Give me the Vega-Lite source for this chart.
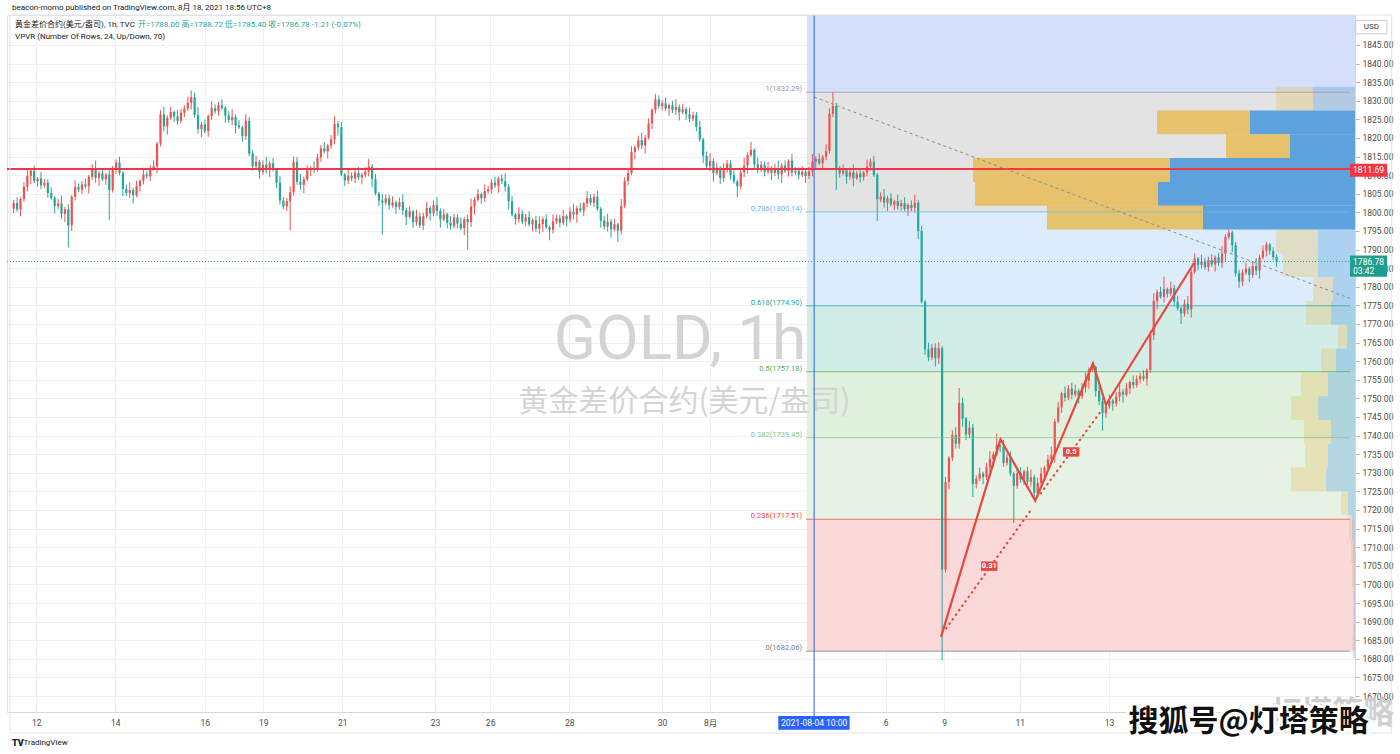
{
"$schema": "https://vega.github.io/schema/vega-lite/v6.json",
"width": 1348, "height": 697,
"autosize": {"type": "none"},
"padding": {"left": 7, "top": 15, "right": 45, "bottom": 42},
"background": "white",
"config": {"view": {"stroke": "#e0e3eb"}, "font": "Roboto, Noto Sans CJK SC, sans-serif",
  "axisY": {"tickCount": 40, "labelOverlap": false, "labelFlush": false, "gridColor": "#eef0f4", "tickSize": 4, "tickColor": "#b2b5be", "domainColor": "#d6d8de", "labelFontSize": 8.5, "labelColor": "#4a4a4a", "labelPadding": 3}},
"resolve": {"scale": {"x": "independent", "color": "independent"}},
"layer": [
{
 "data": {"values": [
  {"from": 1832.29, "to": 1925.13, "band": "top"},
  {"from": 1800.14, "to": 1832.29, "band": "g"},
  {"from": 1774.90, "to": 1800.14, "band": "lb"},
  {"from": 1757.18, "to": 1774.90, "band": "tl"},
  {"from": 1739.45, "to": 1757.18, "band": "gr"},
  {"from": 1717.51, "to": 1739.45, "band": "lg"},
  {"from": 1682.06, "to": 1717.51, "band": "rd"}
 ]},
 "mark": {"type": "rect", "clip": true},
 "encoding": {
  "x": {"datum": 232.1, "type": "quantitative", "scale": {"domain": [-0.5, 391.5], "nice": false, "zero": false},
        "axis": {"values": [8,31,57,74,97,124,140,163,190,204,255,272,294,320],
                 "labelExpr": "['12','14','16','19','21','23','26','28','30','8月','6','9','11','13'][indexof([8,31,57,74,97,124,140,163,190,204,255,272,294,320], datum.value)]",
                 "title": null, "grid": true, "gridColor": "#eef0f4", "ticks": false, "domainColor": "#d6d8de",
                 "labelFontSize": 8.5, "labelColor": "#4a4a4a", "labelPadding": 6, "labelOverlap": false, "labelFlush": false}},
  "x2": {"datum": 391.5},
  "y": {"field": "from", "type": "quantitative", "scale": {"domain": [1665.7, 1853.06], "nice": false, "zero": false}},
  "y2": {"field": "to"},
  "color": {"field": "band", "type": "nominal", "scale": {"domain": ["top","g","lb","tl","gr","lg","rd"], "range": ["#d5dffa","#e3e3e4","#dcecfa","#d2ece8","#dff0dc","#e6f2e3","#fbd9d9"]}, "legend": null}
 }
},
{
 "data": {"values": [
  {"lo": 1827.4, "hi": 1833.8, "up": 42, "down": 37, "va": false},
  {"lo": 1821.0, "hi": 1827.4, "up": 105, "down": 93, "va": true},
  {"lo": 1814.6, "hi": 1821.0, "up": 65, "down": 64, "va": true},
  {"lo": 1808.2, "hi": 1814.6, "up": 185, "down": 197, "va": true},
  {"lo": 1801.8, "hi": 1808.2, "up": 197, "down": 183, "va": true},
  {"lo": 1795.4, "hi": 1801.8, "up": 152, "down": 156, "va": true},
  {"lo": 1789.0, "hi": 1795.4, "up": 37, "down": 42, "va": false},
  {"lo": 1782.6, "hi": 1789.0, "up": 37, "down": 35, "va": false},
  {"lo": 1776.2, "hi": 1782.6, "up": 22, "down": 20, "va": false},
  {"lo": 1769.8, "hi": 1776.2, "up": 24, "down": 25, "va": false},
  {"lo": 1763.4, "hi": 1769.8, "up": 8, "down": 9, "va": false},
  {"lo": 1757.0, "hi": 1763.4, "up": 19, "down": 15, "va": false},
  {"lo": 1750.6, "hi": 1757.0, "up": 27, "down": 27, "va": false},
  {"lo": 1744.2, "hi": 1750.6, "up": 37, "down": 27, "va": false},
  {"lo": 1737.8, "hi": 1744.2, "up": 24, "down": 27, "va": false},
  {"lo": 1731.4, "hi": 1737.8, "up": 27, "down": 23, "va": false},
  {"lo": 1725.0, "hi": 1731.4, "up": 29, "down": 35, "va": false},
  {"lo": 1718.6, "hi": 1725.0, "up": 7, "down": 7, "va": false},
  {"lo": 1712.2, "hi": 1718.6, "up": 3, "down": 3, "va": false},
  {"lo": 1705.8, "hi": 1712.2, "up": 2, "down": 2, "va": false},
  {"lo": 1699.4, "hi": 1705.8, "up": 1.5, "down": 1.5, "va": false},
  {"lo": 1693.0, "hi": 1699.4, "up": 1, "down": 1, "va": false},
  {"lo": 1686.6, "hi": 1693.0, "up": 1, "down": 1, "va": false},
  {"lo": 1680.2, "hi": 1686.6, "up": 1.5, "down": 1, "va": false}
 ]},
 "transform": [
  {"fold": ["up", "down"], "as": ["side", "vol"]},
  {"stack": "vol", "groupby": ["lo"], "sort": [{"field": "side", "order": "descending"}], "as": ["v0", "v1"]}
 ],
 "mark": {"type": "rect"},
 "encoding": {
  "x": {"field": "v0", "type": "quantitative", "scale": {"domain": [0, 1348], "reverse": true, "nice": false, "zero": false}, "axis": null},
  "x2": {"field": "v1"},
  "y": {"field": "lo", "type": "quantitative"},
  "y2": {"field": "hi"},
  "color": {"field": "side", "type": "nominal", "scale": {"domain": ["up", "down"], "range": ["#4a98dc", "#e5bd5a"]}, "legend": null},
  "opacity": {"condition": {"test": "datum.va", "value": 0.88}, "value": 0.32}
 }
},
{
 "layer": [
  {"data": {"values": [{}]}, "mark": {"type": "text", "text": "GOLD, 1h", "fontSize": 62, "color": "#d4d4d4", "align": "center", "baseline": "middle", "font": "Roboto"},
   "encoding": {"x": {"datum": 195.2, "type": "quantitative", "axis": null}, "y": {"datum": 1765.7, "type": "quantitative"}}},
  {"data": {"values": [{}]}, "mark": {"type": "text", "text": "黄金差价合约(美元/盎司)", "fontSize": 30, "color": "#d4d4d4", "align": "center", "baseline": "middle", "font": "Noto Sans CJK SC"},
   "encoding": {"x": {"datum": 196.5, "type": "quantitative", "axis": null}, "y": {"datum": 1749.0, "type": "quantitative"}}},
  {
   "data": {"values": "i,o,h,l,c\n0,1801.0,1803.4,1799.8,1802.5\n1,1802.5,1804.1,1800.2,1800.8\n2,1800.8,1804.1,1798.9,1803.6\n3,1803.6,1808.1,1802.8,1806.9\n4,1806.9,1811.9,1805.6,1809.8\n5,1809.8,1811.9,1807.6,1811.2\n6,1811.2,1812.6,1807.9,1808.4\n7,1808.4,1809.5,1806.9,1809.1\n8,1809.1,1810.9,1806.3,1807.3\n9,1807.3,1809.0,1806.6,1808.0\n10,1808.0,1808.9,1804.0,1805.2\n11,1805.2,1806.8,1803.3,1803.9\n12,1803.9,1804.4,1799.8,1801.7\n13,1801.7,1803.6,1800.9,1802.4\n14,1802.4,1804.5,1798.3,1799.6\n15,1799.6,1801.5,1797.4,1800.8\n16,1800.8,1802.2,1790.6,1796.5\n17,1796.5,1804.6,1795.0,1804.2\n18,1804.2,1808.6,1803.2,1806.8\n19,1806.8,1807.8,1805.4,1806.1\n20,1806.1,1808.4,1804.9,1807.5\n21,1807.5,1809.1,1806.4,1807.0\n22,1807.0,1810.1,1805.1,1809.6\n23,1809.6,1813.0,1808.8,1811.8\n24,1811.8,1813.9,1808.0,1809.3\n25,1809.3,1811.2,1807.1,1810.5\n26,1810.5,1811.9,1808.4,1808.9\n27,1808.9,1810.6,1807.4,1810.2\n28,1810.2,1812.0,1798.0,1806.0\n29,1806.0,1812.5,1805.3,1811.5\n30,1811.5,1814.3,1810.3,1813.4\n31,1813.4,1815.0,1810.0,1810.6\n32,1810.6,1811.1,1804.4,1806.3\n33,1806.3,1807.5,1804.4,1805.2\n34,1805.2,1808.1,1803.9,1806.0\n35,1806.0,1806.7,1802.4,1804.6\n36,1804.6,1808.5,1804.1,1807.1\n37,1807.1,1808.9,1805.6,1808.5\n38,1808.5,1812.0,1807.5,1810.2\n39,1810.2,1811.2,1809.0,1809.7\n40,1809.7,1812.7,1808.5,1811.8\n41,1811.8,1814.0,1811.2,1812.4\n42,1812.4,1819.0,1810.5,1818.5\n43,1818.5,1827.5,1817.7,1826.3\n44,1826.3,1828.4,1821.8,1823.1\n45,1823.1,1826.1,1820.9,1825.4\n46,1825.4,1828.4,1824.9,1827.0\n47,1827.0,1827.4,1824.3,1825.8\n48,1825.8,1827.6,1823.6,1824.6\n49,1824.6,1827.8,1823.9,1826.8\n50,1826.8,1828.8,1825.6,1827.9\n51,1827.9,1831.1,1827.3,1829.5\n52,1829.5,1832.8,1827.6,1831.0\n53,1831.0,1832.2,1825.4,1826.2\n54,1826.2,1828.3,1821.1,1822.4\n55,1822.4,1824.3,1820.2,1823.6\n56,1823.6,1825.0,1821.3,1821.8\n57,1821.8,1826.3,1820.3,1825.9\n58,1825.9,1829.8,1824.9,1828.0\n59,1828.0,1829.0,1826.5,1827.2\n60,1827.2,1829.7,1826.0,1828.8\n61,1828.8,1830.4,1827.5,1828.1\n62,1828.1,1828.6,1824.1,1826.0\n63,1826.0,1827.2,1824.0,1824.8\n64,1824.8,1827.7,1823.5,1825.6\n65,1825.6,1826.3,1821.2,1823.4\n66,1823.4,1824.8,1822.4,1822.9\n67,1822.9,1823.3,1819.0,1820.5\n68,1820.5,1826.4,1819.5,1824.6\n69,1824.6,1825.6,1815.1,1815.8\n70,1815.8,1816.7,1811.2,1812.4\n71,1812.4,1815.2,1811.8,1813.6\n72,1813.6,1814.1,1809.0,1810.9\n73,1810.9,1814.0,1810.1,1812.8\n74,1812.8,1814.9,1810.4,1811.7\n75,1811.7,1813.9,1809.5,1813.2\n76,1813.2,1814.6,1811.0,1811.5\n77,1811.5,1811.9,1806.5,1808.0\n78,1808.0,1809.8,1802.2,1803.2\n79,1803.2,1804.2,1800.9,1801.6\n80,1801.6,1803.9,1800.4,1803.0\n81,1803.0,1807.0,1795.2,1805.4\n82,1805.4,1815.0,1804.5,1813.6\n83,1813.6,1814.8,1807.4,1808.2\n84,1808.2,1810.3,1806.1,1807.4\n85,1807.4,1809.6,1805.2,1808.9\n86,1808.9,1812.7,1808.4,1811.3\n87,1811.3,1812.4,1809.8,1812.0\n88,1812.0,1813.8,1810.6,1811.6\n89,1811.6,1815.8,1810.9,1814.8\n90,1814.8,1818.1,1813.6,1817.2\n91,1817.2,1818.8,1815.8,1816.4\n92,1816.4,1818.4,1814.5,1817.9\n93,1817.9,1820.8,1817.1,1819.6\n94,1819.6,1825.9,1818.3,1823.8\n95,1823.8,1824.5,1820.7,1822.9\n96,1822.9,1824.3,1809.7,1810.2\n97,1810.2,1810.6,1807.1,1808.6\n98,1808.6,1811.6,1807.6,1809.8\n99,1809.8,1810.8,1808.4,1809.1\n100,1809.1,1811.5,1807.9,1810.6\n101,1810.6,1812.2,1808.8,1809.4\n102,1809.4,1810.6,1807.5,1810.1\n103,1810.1,1812.2,1809.3,1811.0\n104,1811.0,1814.4,1809.7,1812.3\n105,1812.3,1813.0,1806.8,1809.0\n106,1809.0,1810.4,1804.6,1805.1\n107,1805.1,1805.5,1801.7,1803.2\n108,1803.2,1805.0,1794.0,1802.6\n109,1802.6,1804.8,1801.9,1803.8\n110,1803.8,1804.7,1800.7,1801.9\n111,1801.9,1804.3,1801.3,1802.7\n112,1802.7,1803.2,1799.6,1801.5\n113,1801.5,1804.0,1800.7,1802.8\n114,1802.8,1804.9,1799.3,1800.6\n115,1800.6,1801.3,1796.6,1798.8\n116,1798.8,1801.7,1798.3,1800.3\n117,1800.3,1800.7,1795.9,1797.4\n118,1797.4,1800.7,1796.4,1798.9\n119,1798.9,1799.9,1795.8,1796.5\n120,1796.5,1799.9,1795.3,1799.0\n121,1799.0,1802.8,1798.4,1801.2\n122,1801.2,1801.7,1797.8,1799.7\n123,1799.7,1803.2,1798.9,1802.0\n124,1802.0,1804.1,1799.1,1800.4\n125,1800.4,1801.1,1795.9,1798.1\n126,1798.1,1800.9,1797.6,1799.5\n127,1799.5,1799.9,1795.7,1797.2\n128,1797.2,1799.0,1795.4,1796.4\n129,1796.4,1799.6,1795.7,1798.6\n130,1798.6,1799.5,1795.8,1797.0\n131,1797.0,1798.6,1795.2,1795.8\n132,1795.8,1798.7,1793.9,1798.2\n133,1798.2,1799.4,1790.0,1797.4\n134,1797.4,1803.7,1796.1,1801.6\n135,1801.6,1804.1,1799.4,1803.4\n136,1803.4,1806.3,1802.9,1804.9\n137,1804.9,1805.3,1802.3,1803.8\n138,1803.8,1807.5,1802.8,1805.7\n139,1805.7,1807.2,1805.0,1806.2\n140,1806.2,1808.9,1805.0,1808.0\n141,1808.0,1809.6,1806.6,1807.2\n142,1807.2,1809.6,1805.3,1809.1\n143,1809.1,1810.3,1807.6,1808.4\n144,1808.4,1810.5,1805.6,1806.9\n145,1806.9,1807.6,1800.8,1803.0\n146,1803.0,1804.4,1798.9,1799.4\n147,1799.4,1799.8,1796.7,1798.2\n148,1798.2,1801.4,1797.2,1799.6\n149,1799.6,1800.6,1796.8,1797.5\n150,1797.5,1799.6,1796.3,1798.7\n151,1798.7,1800.3,1796.2,1796.8\n152,1796.8,1798.4,1794.9,1797.9\n153,1797.9,1799.1,1794.8,1795.6\n154,1795.6,1799.0,1794.3,1796.9\n155,1796.9,1798.9,1794.7,1798.2\n156,1798.2,1799.6,1795.5,1796.0\n157,1796.0,1796.4,1792.5,1795.3\n158,1795.3,1799.4,1794.3,1797.6\n159,1797.6,1799.4,1796.9,1798.4\n160,1798.4,1799.3,1796.0,1797.2\n161,1797.2,1800.6,1796.6,1799.0\n162,1799.0,1799.5,1796.2,1798.1\n163,1798.1,1801.4,1797.3,1800.2\n164,1800.2,1802.3,1798.1,1799.4\n165,1799.4,1801.8,1797.2,1801.1\n166,1801.1,1802.5,1800.0,1800.5\n167,1800.5,1802.8,1799.0,1802.4\n168,1802.4,1805.7,1801.4,1803.9\n169,1803.9,1804.9,1801.9,1802.6\n170,1802.6,1805.1,1801.4,1804.2\n171,1804.2,1805.8,1800.4,1801.0\n172,1801.0,1801.5,1795.9,1797.8\n173,1797.8,1799.0,1795.4,1796.2\n174,1796.2,1799.6,1794.9,1797.5\n175,1797.5,1798.2,1793.2,1795.4\n176,1795.4,1798.2,1794.9,1796.8\n177,1796.8,1797.2,1792.0,1795.1\n178,1795.1,1803.6,1794.1,1801.8\n179,1801.8,1809.5,1801.1,1808.5\n180,1808.5,1811.5,1807.3,1810.6\n181,1810.6,1817.8,1810.0,1816.2\n182,1816.2,1818.0,1814.3,1817.5\n183,1817.5,1820.6,1816.7,1819.4\n184,1819.4,1821.5,1817.0,1818.0\n185,1818.0,1820.8,1815.8,1820.1\n186,1820.1,1825.3,1819.6,1823.9\n187,1823.9,1828.0,1822.4,1827.6\n188,1827.6,1831.8,1826.6,1830.4\n189,1830.4,1831.4,1827.9,1828.6\n190,1828.6,1830.2,1827.4,1829.3\n191,1829.3,1830.9,1827.3,1827.9\n192,1827.9,1829.3,1826.0,1828.8\n193,1828.8,1830.0,1826.7,1827.5\n194,1827.5,1830.4,1826.2,1828.3\n195,1828.3,1829.0,1824.7,1826.9\n196,1826.9,1829.2,1826.4,1827.8\n197,1827.8,1828.2,1824.9,1826.4\n198,1826.4,1828.2,1824.2,1825.2\n199,1825.2,1827.1,1824.5,1826.1\n200,1826.1,1827.0,1821.8,1823.0\n201,1823.0,1824.6,1819.0,1819.6\n202,1819.6,1820.1,1813.3,1815.2\n203,1815.2,1816.4,1811.6,1812.4\n204,1812.4,1815.9,1811.1,1813.8\n205,1813.8,1814.5,1808.3,1810.5\n206,1810.5,1813.4,1810.0,1812.0\n207,1812.0,1812.4,1807.7,1809.2\n208,1809.2,1813.2,1808.2,1811.4\n209,1811.4,1814.1,1810.7,1813.1\n210,1813.1,1814.0,1808.8,1810.0\n211,1810.0,1811.6,1807.7,1808.3\n212,1808.3,1808.8,1804.0,1807.0\n213,1807.0,1812.0,1806.2,1810.8\n214,1810.8,1814.7,1809.5,1812.6\n215,1812.6,1816.1,1810.4,1815.4\n216,1815.4,1819.0,1814.9,1816.8\n217,1816.8,1817.2,1811.4,1812.9\n218,1812.9,1814.7,1810.6,1811.6\n219,1811.6,1813.8,1810.9,1812.8\n220,1812.8,1813.7,1809.7,1810.9\n221,1810.9,1813.6,1810.3,1812.0\n222,1812.0,1812.5,1808.7,1810.6\n223,1810.6,1813.0,1809.8,1811.8\n224,1811.8,1813.9,1808.9,1810.2\n225,1810.2,1813.3,1807.9,1812.6\n226,1812.6,1814.0,1810.6,1811.1\n227,1811.1,1814.3,1809.6,1813.9\n228,1813.9,1815.7,1809.7,1810.7\n229,1810.7,1812.2,1810.0,1811.2\n230,1811.2,1812.1,1808.9,1810.1\n231,1810.1,1812.5,1809.5,1810.9\n232,1810.9,1811.4,1807.9,1809.8\n233,1809.8,1812.2,1809.0,1811.0\n234,1811.0,1815.7,1809.7,1813.6\n235,1813.6,1815.1,1811.4,1814.4\n236,1814.4,1815.8,1812.7,1813.2\n237,1813.2,1815.4,1811.7,1815.0\n238,1815.0,1818.3,1814.0,1816.5\n239,1816.5,1828.0,1815.8,1826.5\n240,1826.5,1832.3,1825.6,1828.6\n241,1828.6,1829.4,1806.0,1811.6\n242,1811.6,1812.5,1809.3,1810.5\n243,1810.5,1812.9,1809.9,1811.3\n244,1811.3,1811.8,1807.7,1809.6\n245,1809.6,1812.0,1808.8,1810.8\n246,1810.8,1812.9,1807.0,1809.2\n247,1809.2,1811.1,1808.7,1810.4\n248,1810.4,1811.8,1808.0,1809.5\n249,1809.5,1811.1,1808.5,1810.7\n250,1810.7,1814.2,1809.7,1812.4\n251,1812.4,1814.5,1811.2,1813.6\n252,1813.6,1815.2,1809.5,1810.1\n253,1810.1,1810.6,1797.7,1803.5\n254,1803.5,1805.4,1802.7,1804.2\n255,1804.2,1806.3,1801.3,1802.6\n256,1802.6,1804.5,1800.4,1803.8\n257,1803.8,1805.2,1801.6,1802.1\n258,1802.1,1803.4,1800.6,1803.0\n259,1803.0,1804.8,1800.7,1801.7\n260,1801.7,1803.4,1800.5,1802.5\n261,1802.5,1804.1,1800.3,1800.9\n262,1800.9,1802.5,1799.0,1802.0\n263,1802.0,1803.2,1800.4,1801.2\n264,1801.2,1804.7,1799.9,1802.6\n265,1802.6,1803.3,1792.8,1795.0\n266,1795.0,1796.4,1775.5,1776.0\n267,1776.0,1776.4,1761.7,1763.2\n268,1763.2,1765.0,1760.0,1761.0\n269,1761.0,1764.6,1760.3,1763.6\n270,1763.6,1764.8,1758.6,1760.8\n271,1760.8,1765.1,1759.3,1763.5\n272,1763.5,1764.0,1679.7,1704.0\n273,1704.0,1728.9,1703.2,1727.5\n274,1727.5,1734.5,1725.6,1734.0\n275,1734.0,1741.4,1733.2,1740.2\n276,1740.2,1742.3,1736.5,1737.8\n277,1737.8,1752.8,1736.5,1748.8\n278,1748.8,1750.2,1742.4,1744.6\n279,1744.6,1745.0,1738.8,1740.3\n280,1740.3,1743.9,1739.3,1742.1\n281,1742.1,1743.1,1723.5,1727.0\n282,1727.0,1729.3,1725.8,1728.4\n283,1728.4,1731.4,1727.8,1729.8\n284,1729.8,1730.3,1726.9,1728.9\n285,1728.9,1732.7,1728.1,1731.5\n286,1731.5,1735.8,1730.2,1733.7\n287,1733.7,1735.7,1731.5,1735.0\n288,1735.0,1740.5,1734.5,1737.4\n289,1737.4,1737.8,1735.5,1737.0\n290,1737.0,1738.8,1731.6,1732.6\n291,1732.6,1735.1,1731.9,1734.1\n292,1734.1,1735.7,1729.2,1729.8\n293,1729.8,1730.3,1716.5,1726.5\n294,1726.5,1731.1,1725.7,1729.9\n295,1729.9,1731.5,1727.3,1728.2\n296,1728.2,1730.9,1726.7,1730.4\n297,1730.4,1731.6,1726.8,1727.6\n298,1727.6,1730.9,1726.3,1728.8\n299,1728.8,1729.5,1722.7,1724.6\n300,1724.6,1728.7,1723.4,1727.3\n301,1727.3,1731.4,1726.7,1729.8\n302,1729.8,1731.9,1727.9,1731.4\n303,1731.4,1734.8,1730.6,1733.6\n304,1733.6,1737.0,1732.3,1734.9\n305,1734.9,1744.5,1732.7,1743.8\n306,1743.8,1749.0,1743.3,1747.6\n307,1747.6,1751.8,1746.1,1751.4\n308,1751.4,1753.2,1749.2,1750.2\n309,1750.2,1753.6,1749.5,1752.6\n310,1752.6,1754.2,1749.8,1751.0\n311,1751.0,1753.7,1750.4,1752.1\n312,1752.1,1752.6,1748.7,1750.6\n313,1750.6,1754.1,1749.8,1752.9\n314,1752.9,1756.9,1751.6,1754.8\n315,1754.8,1758.3,1752.6,1757.6\n316,1757.6,1759.6,1757.1,1758.4\n317,1758.4,1758.8,1750.5,1752.0\n318,1752.0,1753.8,1748.2,1749.2\n319,1749.2,1750.2,1741.3,1746.0\n320,1746.0,1748.7,1744.8,1747.8\n321,1747.8,1751.0,1747.2,1749.4\n322,1749.4,1749.9,1746.7,1748.6\n323,1748.6,1751.7,1747.8,1750.5\n324,1750.5,1753.9,1749.2,1751.8\n325,1751.8,1752.5,1748.8,1751.0\n326,1751.0,1754.1,1750.5,1752.7\n327,1752.7,1754.8,1751.2,1754.4\n328,1754.4,1756.2,1752.6,1753.6\n329,1753.6,1756.2,1752.9,1755.2\n330,1755.2,1756.9,1754.0,1756.0\n331,1756.0,1757.6,1754.7,1755.3\n332,1755.3,1758.1,1753.4,1757.6\n333,1757.6,1768.2,1756.8,1767.0\n334,1767.0,1778.3,1765.7,1776.2\n335,1776.2,1779.3,1774.0,1778.6\n336,1778.6,1780.0,1776.8,1777.3\n337,1777.3,1782.7,1775.8,1779.4\n338,1779.4,1779.8,1777.1,1778.1\n339,1778.1,1781.4,1777.4,1779.6\n340,1779.6,1780.5,1774.8,1776.0\n341,1776.0,1777.6,1773.6,1774.2\n342,1774.2,1774.7,1770.0,1772.8\n343,1772.8,1776.6,1772.0,1775.4\n344,1775.4,1777.5,1772.6,1773.9\n345,1773.9,1784.7,1771.7,1784.0\n346,1784.0,1789.0,1783.5,1787.6\n347,1787.6,1788.0,1784.4,1785.9\n348,1785.9,1788.6,1784.9,1786.8\n349,1786.8,1787.8,1784.6,1785.3\n350,1785.3,1788.1,1784.1,1787.2\n351,1787.2,1788.8,1785.4,1786.0\n352,1786.0,1788.4,1784.1,1787.9\n353,1787.9,1789.1,1785.6,1786.4\n354,1786.4,1791.0,1785.1,1788.9\n355,1788.9,1794.1,1786.7,1793.4\n356,1793.4,1795.5,1792.8,1794.6\n357,1794.6,1795.1,1789.3,1791.2\n358,1791.2,1792.0,1782.8,1783.6\n359,1783.6,1784.6,1779.7,1781.4\n360,1781.4,1784.7,1780.2,1783.8\n361,1783.8,1786.5,1783.2,1784.9\n362,1784.9,1785.4,1781.3,1783.2\n363,1783.2,1786.8,1782.4,1785.6\n364,1785.6,1787.7,1783.1,1784.4\n365,1784.4,1788.6,1782.2,1787.9\n366,1787.9,1791.1,1787.4,1789.7\n367,1789.7,1792.1,1788.2,1791.4\n368,1791.4,1791.8,1788.6,1789.6\n369,1789.6,1790.6,1787.3,1788.0\n370,1788.0,1788.72,1785.40,1786.78",
    "format": {"type": "csv", "parse": {"i": "number", "o": "number", "h": "number", "l": "number", "c": "number"}}},
   "layer": [
    {"mark": {"type": "rule", "strokeWidth": 1},
     "encoding": {
      "x": {"field": "i", "type": "quantitative", "scale": {"domain": [-0.5, 391.5], "nice": false, "zero": false}, "axis": null},
      "y": {"field": "l", "type": "quantitative"},
      "y2": {"field": "h"},
      "color": {"condition": {"test": "datum.c >= datum.o", "value": "#ef5350"}, "value": "#26a69a"}
     }},
    {"mark": {"type": "bar", "size": 2.2},
     "encoding": {
      "x": {"field": "i", "type": "quantitative", "axis": null},
      "y": {"field": "o", "type": "quantitative"},
      "y2": {"field": "c"},
      "color": {"condition": {"test": "datum.c >= datum.o", "value": "#ef5350"}, "value": "#26a69a"}
     }}
   ]
  },
  {"data": {"values": [
    {"lvl": "1", "p": 1832.29, "t": "1(1832.29)"},
    {"lvl": "0.786", "p": 1800.14, "t": "0.786(1800.14)"},
    {"lvl": "0.618", "p": 1774.90, "t": "0.618(1774.90)"},
    {"lvl": "0.5", "p": 1757.18, "t": "0.5(1757.18)"},
    {"lvl": "0.382", "p": 1739.45, "t": "0.382(1739.45)"},
    {"lvl": "0.236", "p": 1717.51, "t": "0.236(1717.51)"},
    {"lvl": "0", "p": 1682.06, "t": "0(1682.06)"}]},
   "layer": [
    {"mark": {"type": "rule", "strokeWidth": 1, "opacity": 0.75},
     "encoding": {"x": {"datum": 232.1, "type": "quantitative", "axis": null}, "x2": {"datum": 391.5},
      "y": {"field": "p", "type": "quantitative"},
      "color": {"field": "lvl", "type": "nominal", "scale": {"domain": ["1","0.786","0.618","0.5","0.382","0.236","0"], "range": ["#9598a1","#64b5f6","#26a69a","#4caf50","#81c784","#f44336","#787b86"]}, "legend": null}}},
    {"mark": {"type": "text", "align": "right", "baseline": "bottom", "dy": 1, "fontSize": 7.5},
     "encoding": {"x": {"datum": 231.0, "type": "quantitative", "axis": null},
      "y": {"field": "p", "type": "quantitative"},
      "text": {"field": "t"},
      "color": {"field": "lvl", "type": "nominal", "scale": {"domain": ["1","0.786","0.618","0.5","0.382","0.236","0"], "range": ["#9598a1","#64b5f6","#26a69a","#4caf50","#81c784","#f44336","#787b86"]}, "legend": null}}}
   ]},
  {"data": {"values": [{}]}, "mark": {"type": "rule", "color": "#f23645", "strokeWidth": 2},
   "encoding": {"y": {"datum": 1811.69, "type": "quantitative"}}},
  {"data": {"values": [{"i": 234.5, "p": 1831.0}, {"i": 391.5, "p": 1776.9}]},
   "mark": {"type": "line", "color": "#8c8c8c", "strokeWidth": 1, "strokeDash": [3, 3]},
   "encoding": {"x": {"field": "i", "type": "quantitative", "axis": null}, "y": {"field": "p", "type": "quantitative"}}},
  {"data": {"values": [
    {"k": 1, "i": 271.7, "p": 1685.9}, {"k": 2, "i": 289.1, "p": 1739.0}, {"k": 3, "i": 299.3, "p": 1722.5},
    {"k": 4, "i": 316.2, "p": 1759.4}, {"k": 5, "i": 320.0, "p": 1748.3}, {"k": 6, "i": 345.8, "p": 1786.4}]},
   "mark": {"type": "line", "color": "#e8473f", "strokeWidth": 2.2},
   "encoding": {"x": {"field": "i", "type": "quantitative", "axis": null}, "y": {"field": "p", "type": "quantitative"}, "order": {"field": "k"}}},
  {"data": {"values": [
    {"seg": "AC", "i": 273.2, "p": 1688.2}, {"seg": "AC", "i": 298.4, "p": 1720.5},
    {"seg": "CE", "i": 300.9, "p": 1724.5}, {"seg": "CE", "i": 318.8, "p": 1746.9}]},
   "mark": {"type": "line", "color": "#e8473f", "strokeWidth": 2.2, "strokeDash": [0.5, 5], "strokeCap": "round"},
   "encoding": {"x": {"field": "i", "type": "quantitative", "axis": null}, "y": {"field": "p", "type": "quantitative"}, "detail": {"field": "seg"}}},
  {"data": {"values": [{"i": 285.8, "p": 1704.9, "t": "0.31"}, {"i": 309.8, "p": 1735.6, "t": "0.5"}]},
   "layer": [
    {"mark": {"type": "point", "shape": "M-1.75,-1H1.75V1H-1.75Z", "size": 88, "filled": true, "color": "#e8473f", "opacity": 1},
     "encoding": {"x": {"field": "i", "type": "quantitative", "axis": null}, "y": {"field": "p", "type": "quantitative"}}},
    {"mark": {"type": "text", "color": "white", "fontSize": 7.5, "fontWeight": "bold", "align": "center", "baseline": "middle"},
     "encoding": {"x": {"field": "i", "type": "quantitative", "axis": null}, "y": {"field": "p", "type": "quantitative"}, "text": {"field": "t"}}}
   ]},
  {"data": {"values": [{}]}, "mark": {"type": "rule", "color": "#2962ff", "strokeWidth": 1},
   "encoding": {"x": {"datum": 234.5, "type": "quantitative", "axis": null}, "y": {"datum": 1853.06, "type": "quantitative"}, "y2": {"datum": 1664.6}}},
  {"data": {"values": [{}]}, "mark": {"type": "rect", "color": "#2962ff"},
   "encoding": {"x": {"datum": 224.0, "type": "quantitative", "axis": null}, "x2": {"datum": 244.9}, "y": {"datum": 1664.6, "type": "quantitative"}, "y2": {"datum": 1660.9}}},
  {"data": {"values": [{}]}, "mark": {"type": "text", "text": "2021-08-04  10:00", "color": "white", "fontSize": 8.5, "align": "center", "baseline": "middle"},
   "encoding": {"x": {"datum": 234.5, "type": "quantitative", "axis": null}, "y": {"datum": 1662.7, "type": "quantitative"}}},
  {"data": {"values": [{}]}, "mark": {"type": "rect", "color": "#f23645"},
   "encoding": {"x": {"datum": 391.5, "type": "quantitative", "axis": null}, "x2": {"datum": 402.4}, "y": {"datum": 1813.1, "type": "quantitative"}, "y2": {"datum": 1809.6}}},
  {"data": {"values": [{}]}, "mark": {"type": "text", "text": "1811.69", "color": "white", "fontSize": 8.5, "align": "left", "baseline": "middle"},
   "encoding": {"x": {"datum": 392.4, "type": "quantitative", "axis": null}, "y": {"datum": 1811.3, "type": "quantitative"}}},
  {"data": {"values": [{}]}, "mark": {"type": "rect", "color": "#1e9e8c"},
   "encoding": {"x": {"datum": 391.5, "type": "quantitative", "axis": null}, "x2": {"datum": 402.4}, "y": {"datum": 1788.4, "type": "quantitative"}, "y2": {"datum": 1782.7}}},
  {"data": {"values": [{}]}, "mark": {"type": "text", "text": "1786.78", "color": "white", "fontSize": 8.5, "align": "left", "baseline": "middle"},
   "encoding": {"x": {"datum": 392.4, "type": "quantitative", "axis": null}, "y": {"datum": 1786.6, "type": "quantitative"}}},
  {"data": {"values": [{}]}, "mark": {"type": "text", "text": "03:42", "color": "white", "fontSize": 8.5, "align": "left", "baseline": "middle"},
   "encoding": {"x": {"datum": 392.4, "type": "quantitative", "axis": null}, "y": {"datum": 1784.2, "type": "quantitative"}}},
  {"data": {"values": [{}]}, "mark": {"type": "rect", "fill": "white", "stroke": "#c9ccd3", "strokeWidth": 1},
   "encoding": {"x": {"datum": 393.2, "type": "quantitative", "axis": null}, "x2": {"datum": 402.3}, "y": {"datum": 1851.6, "type": "quantitative"}, "y2": {"datum": 1848.0}}},
  {"data": {"values": [{}]}, "mark": {"type": "text", "text": "USD", "color": "#333333", "fontSize": 8, "align": "center", "baseline": "middle"},
   "encoding": {"x": {"datum": 397.75, "type": "quantitative", "axis": null}, "y": {"datum": 1849.8, "type": "quantitative"}}},
  {"data": {"values": [{}]}, "mark": {"type": "text", "text": "beacon-momo published on TradingView.com, 8月 18, 2021 18:56 UTC+8", "color": "#131722", "fontSize": 8, "align": "left", "baseline": "middle"},
   "encoding": {"x": {"datum": -0.5, "type": "quantitative", "axis": null}, "y": {"datum": 1855.0, "type": "quantitative"}}},
  {"data": {"values": [{}]}, "mark": {"type": "text", "text": "黄金差价合约(美元/盎司), 1h, TVC", "color": "#131722", "fontSize": 8, "align": "left", "baseline": "middle"},
   "encoding": {"x": {"datum": 0.4, "type": "quantitative", "axis": null}, "y": {"datum": 1850.4, "type": "quantitative"}}},
  {"data": {"values": [{}]}, "mark": {"type": "text", "text": "开=1788.00  高=1788.72  低=1785.40  收=1786.78  -1.21 (-0.07%)", "color": "#26a69a", "fontSize": 8, "align": "left", "baseline": "middle"},
   "encoding": {"x": {"datum": 36.4, "type": "quantitative", "axis": null}, "y": {"datum": 1850.4, "type": "quantitative"}}},
  {"data": {"values": [{}]}, "mark": {"type": "text", "text": "VPVR (Number Of Rows, 24, Up/Down, 70)", "color": "#131722", "fontSize": 8, "align": "left", "baseline": "middle"},
   "encoding": {"x": {"datum": 0.4, "type": "quantitative", "axis": null}, "y": {"datum": 1847.15, "type": "quantitative"}}},
  {"data": {"values": [{}]}, "mark": {"type": "text", "text": "TV", "color": "#131722", "fontSize": 9, "fontWeight": 900, "align": "left", "baseline": "middle"},
   "encoding": {"x": {"datum": -0.5, "type": "quantitative", "axis": null}, "y": {"datum": 1657.4, "type": "quantitative"}}},
  {"data": {"values": [{}]}, "mark": {"type": "text", "text": "TradingView", "color": "#131722", "fontSize": 8, "align": "left", "baseline": "middle"},
   "encoding": {"x": {"datum": 2.9, "type": "quantitative", "axis": null}, "y": {"datum": 1657.4, "type": "quantitative"}}},
  {"data": {"values": [{}]}, "mark": {"type": "rect", "fill": null, "stroke": "#e0e3eb", "strokeWidth": 1},
   "encoding": {"x": {"datum": -1.08, "type": "quantitative", "axis": null}, "x2": {"datum": 403.7}, "y": {"datum": 1853.06, "type": "quantitative"}, "y2": {"datum": 1660.05}}},
  {"data": {"values": [{}]}, "mark": {"type": "text", "text": "灯塔策略", "color": "#cfcfcf", "fontSize": 31, "fontWeight": "bold", "font": "Noto Sans CJK SC", "align": "center", "baseline": "middle"},
   "encoding": {"x": {"datum": 386.3, "type": "quantitative", "axis": null}, "y": {"datum": 1665.2, "type": "quantitative"}}},
  {"data": {"values": [{}]}, "mark": {"type": "text", "text": "搜狐号@灯塔策略", "fill": "white", "stroke": "white", "strokeWidth": 6, "strokeJoin": "round", "fontSize": 30, "fontWeight": "bold", "font": "Noto Sans CJK SC", "align": "center", "baseline": "middle"},
   "encoding": {"x": {"datum": 361.8, "type": "quantitative", "axis": null}, "y": {"datum": 1663.0, "type": "quantitative"}}},
  {"data": {"values": [{}]}, "mark": {"type": "text", "text": "搜狐号@灯塔策略", "fill": "#111111", "fontSize": 30, "fontWeight": "bold", "font": "Noto Sans CJK SC", "align": "center", "baseline": "middle"},
   "encoding": {"x": {"datum": 361.8, "type": "quantitative", "axis": null}, "y": {"datum": 1663.0, "type": "quantitative"}}}
 ]
},
{
 "data": {"values": [{}]},
 "mark": {"type": "rule", "color": "#26a69a", "strokeWidth": 1, "strokeDash": [1, 2]},
 "encoding": {"y": {"datum": 1786.78, "type": "quantitative",
   "axis": {"orient": "right", "values": [1670,1675,1680,1685,1690,1695,1700,1705,1710,1715,1720,1725,1730,1735,1740,1745,1750,1755,1760,1765,1770,1775,1780,1785,1790,1795,1800,1805,1810,1815,1820,1825,1830,1835,1840,1845],
            "tickCount": 40, "format": ".2f", "title": null, "grid": true, "gridColor": "#eef0f4", "tickSize": 4, "tickColor": "#b2b5be",
            "domainColor": "#d6d8de", "labelFontSize": 8.5, "labelColor": "#4a4a4a", "labelPadding": 3, "labelOverlap": false, "labelFlush": false}}}
}
]
}
